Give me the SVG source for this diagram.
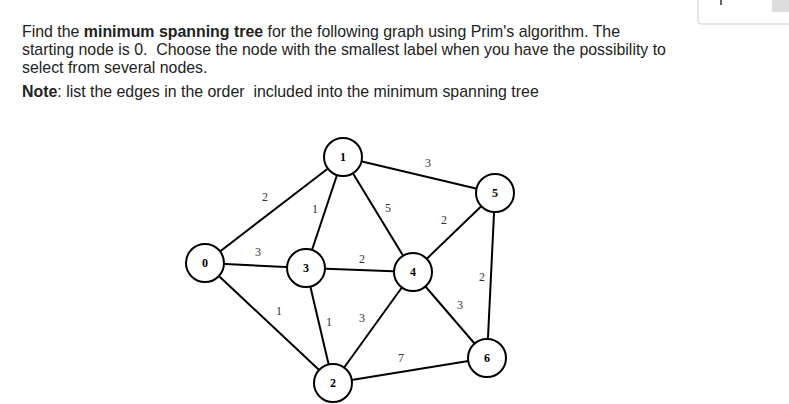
<svg xmlns="http://www.w3.org/2000/svg" width="789" height="404" viewBox="0 0 789 404">
<style>
.t{font-family:"Liberation Sans",Arial,sans-serif;font-size:15.9px;fill:#222;white-space:pre}
.e line{stroke:#000;stroke-width:2}
.n circle{fill:#fff;stroke:#000;stroke-width:2}
.n text{font-family:"Liberation Serif",serif;font-weight:bold;font-size:12px;text-anchor:middle}
.w{font-family:"Liberation Serif",serif;font-size:12px;fill:#333;text-anchor:middle}
</style>
<rect width="789" height="404" fill="#fff"/>
<rect x="698" y="-6" width="100" height="30" rx="3" fill="#fff" stroke="#ccc"/>
<line x1="721" y1="0" x2="721" y2="5" stroke="#333" stroke-width="1.5"/>
<rect x="772" y="0" width="17" height="12" fill="#ddd"/>
<text class="t" x="22" y="37">Find the <tspan font-weight="bold">minimum spanning tree</tspan> for the following graph using Prim's algorithm. The</text>
<text class="t" x="22" y="55">starting node is 0.  Choose the node with the smallest label when you have the possibility to</text>
<text class="t" x="22" y="73">select from several nodes.</text>
<text class="t" x="22" y="97"><tspan font-weight="bold">Note</tspan>: list the edges in the order  included into the minimum spanning tree</text>
<g id="edges" class="e">
<line x1="205" y1="263" x2="343" y2="157"/>
<line x1="205" y1="263" x2="306" y2="268"/>
<line x1="205" y1="263" x2="333" y2="383"/>
<line x1="343" y1="157" x2="306" y2="268"/>
<line x1="343" y1="157" x2="413" y2="272"/>
<line x1="343" y1="157" x2="495" y2="193"/>
<line x1="306" y1="268" x2="413" y2="272"/>
<line x1="306" y1="268" x2="333" y2="383"/>
<line x1="413" y1="272" x2="333" y2="383"/>
<line x1="413" y1="272" x2="495" y2="193"/>
<line x1="413" y1="272" x2="487" y2="358"/>
<line x1="495" y1="193" x2="487" y2="358"/>
<line x1="333" y1="383" x2="487" y2="358"/>
</g>
<g id="weights">
<text class="w" x="265" y="201">2</text>
<text class="w" x="258" y="256">3</text>
<text class="w" x="279" y="315">1</text>
<text class="w" x="315" y="213">1</text>
<text class="w" x="388" y="212">5</text>
<text class="w" x="428" y="167">3</text>
<text class="w" x="362" y="263">2</text>
<text class="w" x="329" y="326">1</text>
<text class="w" x="362" y="322">3</text>
<text class="w" x="444" y="224">2</text>
<text class="w" x="460" y="309">3</text>
<text class="w" x="482" y="281">2</text>
<text class="w" x="401" y="362">7</text>
</g>
<g id="n0" class="n"><circle cx="205" cy="263" r="19"/><text x="205" y="267">0</text></g>
<g id="n1" class="n"><circle cx="343" cy="157" r="19"/><text x="343" y="161">1</text></g>
<g id="n2" class="n"><circle cx="333" cy="383" r="19"/><text x="333" y="387">2</text></g>
<g id="n3" class="n"><circle cx="306" cy="268" r="19"/><text x="306" y="272">3</text></g>
<g id="n4" class="n"><circle cx="413" cy="272" r="19"/><text x="413" y="276">4</text></g>
<g id="n5" class="n"><circle cx="495" cy="193" r="19"/><text x="495" y="197">5</text></g>
<g id="n6" class="n"><circle cx="487" cy="358" r="19"/><text x="487" y="362">6</text></g>
</svg>
